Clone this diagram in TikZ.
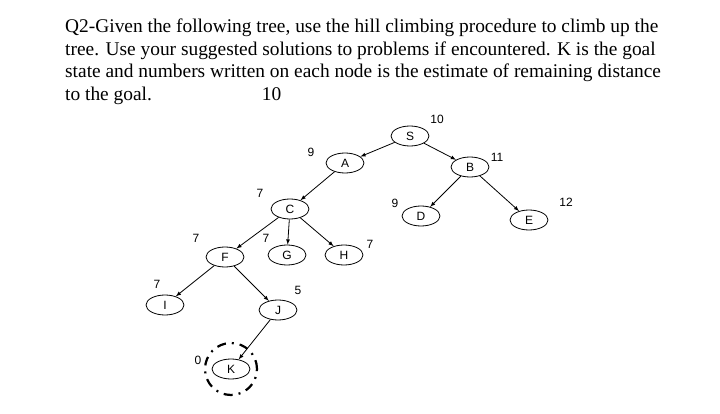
\documentclass[tikz,border=0pt]{standalone}
\usepackage{fontspec}
\usetikzlibrary{shapes.geometric}
\setmainfont{Liberation Serif}
\newfontfamily\arialf{Liberation Sans}
\begin{document}
\begin{tikzpicture}[x=1pt,y=-1pt,
  st/.style={draw,thick,ellipse,minimum width=38pt,minimum height=20pt,inner sep=0pt,font=\arialf\fontsize{12}{12}\selectfont},
  num/.style={font=\arialf\fontsize{12}{12}\selectfont},
  arr/.style={-latex,thick}]
\useasboundingbox (0,0) rectangle (720,414);
\node[anchor=north west,align=left,font=\fontsize{19.4}{22.4}\selectfont,inner sep=0pt] (t) at (65,19)
{Q2-Given the following tree, use the hill climbing procedure to climb up the\\
tree. Use your suggested solutions to problems if encountered. K is the goal\\
state and numbers written on each node is the estimate of remaining distance\\
to the goal.\hspace{110pt}10};
\node[st] (S) at (410,136) {S};
\node[st] (A) at (345,163) {A};
\node[st] (B) at (470,167) {B};
\node[st] (C) at (290,209) {C};
\node[st] (D) at (421,216) {D};
\node[st] (E) at (529,220) {E};
\node[st] (F) at (225,257) {F};
\node[st] (G) at (287,255) {G};
\node[st] (H) at (344,255) {H};
\node[st] (I) at (165,305) {I};
\node[st] (J) at (278,310) {J};
\node[st] (K) at (231,369) {K};
\draw[line width=2.2pt,dash pattern=on 9pt off 6pt on 2pt off 6pt] (K) circle (26pt);
\foreach \a/\b in {S/A,S/B,A/C,B/D,B/E,C/F,C/G,C/H,F/I,F/J,J/K} \draw[arr] (\a) -- (\b);
\node[num] (n1) at (437,119) {10};
\node[num] (n2) at (311,152) {9};
\node[num] (n3) at (497,157) {11};
\node[num] (n4) at (260,193) {7};
\node[num] (n5) at (395,203) {9};
\node[num] (n6) at (566,202) {12};
\node[num] (n7) at (196,238) {7};
\node[num] (n8) at (266,238) {7};
\node[num] (n9) at (370,244) {7};
\node[num] (n10) at (157,284) {7};
\node[num] (n11) at (298,290) {5};
\node[num] (n12) at (198,360) {0};
\end{tikzpicture}
\end{document}
